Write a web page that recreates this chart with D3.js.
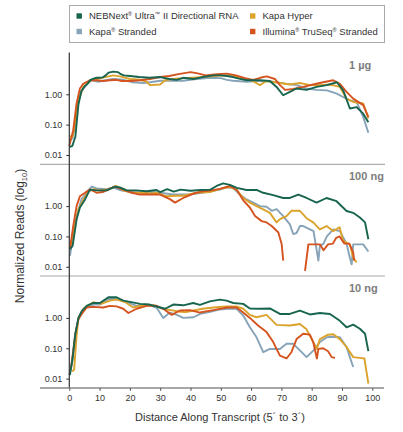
<!DOCTYPE html>
<html>
<head>
<meta charset="utf-8">
<script src="https://cdn.jsdelivr.net/npm/d3@7"></script>
<style>
  body { margin: 0; background: #fff; }
  text { font-family: "Liberation Sans", Arial, Helvetica, sans-serif; }
</style>
</head>
<body>
<script>
const width = 403, height = 432;

// legend order (row by row)
const libraries = ['NEBNext® Ultra™ II Directional RNA', 'Kapa Hyper', 'Kapa® Stranded', 'Illumina® TruSeq® Stranded'];
const colors = ['#17654f', '#dba32c', '#87a3b7', '#d5531f'];
const panels = ['1 µg', '100 ng', '10 ng'];
const xTicks = [0, 10, 20, 30, 40, 50, 60, 70, 80, 90, 100];
const yTicks = [0.01, 0.1, 1];
const xAxisLabel = 'Distance Along Transcript (5´ to 3´)';

// [distance along transcript, normalized reads]
const nebnext1ug = [[0,0.018],[1,0.02],[2,0.04],[3,0.45],[4,1.3],[5,1.8],[6,2.2],[7,3.0],[8,3.3],[9,3.5],[10,3.5],[11,3.6],[12,4.2],[13,5.2],[14.5,5.6],[16,5.4],[17,4.6],[18,4.2],[20,4.0],[23,3.7],[26.5,3.5],[30,3.7],[33,3.2],[35.4,3.0],[37.6,3.5],[41,3.2],[44,3.7],[47.5,4.2],[50,4.2],[52,4.0],[54,3.7],[56,3.3],[58.5,2.9],[62.9,2.9],[66.2,2.75],[68.4,1.75],[70.6,0.93],[72.8,1.2],[75,1.55],[78.3,1.4],[81.6,1.75],[85,2.0],[88.3,2.5],[90.4,1.35],[92.6,0.34],[94.8,0.38],[97,0.23],[98.7,0.12]];
const kapaHyper1ug = [[0,0.042],[1,0.04],[2,0.12],[3,0.6],[4.6,1.7],[6.8,2.8],[9,3.2],[11.8,3.7],[14.5,4.2],[16.7,3.9],[20,3.2],[23.3,3.0],[25.5,2.6],[26.6,2.0],[30,2.1],[31.6,2.9],[34,3.2],[37.6,3.4],[41.9,3.6],[46.4,3.9],[50.8,4.2],[54,3.9],[58.5,3.2],[61,2.6],[62.9,2.0],[65,2.75],[69.5,2.35],[72.8,2.1],[76.1,2.35],[79.4,2.0],[82.7,2.0],[86,2.1],[89.3,1.75],[91.5,0.72],[93.7,0.56],[97,0.5],[98.7,0.16]];
const kapaStranded1ug = [[0,0.03],[1,0.035],[2,0.1],[3,0.6],[4,1.2],[5,1.7],[6,2.3],[7.4,2.9],[9.6,2.6],[11.1,2.8],[14.5,3.2],[17.8,3.0],[21,2.5],[24.4,2.35],[26.6,2.5],[30,2.8],[34,2.8],[37.6,2.8],[41.9,3.2],[46.4,3.5],[50,3.4],[52,3.0],[54,2.8],[58.5,2.6],[62.9,2.8],[67.3,2.6],[71.7,2.2],[75,2.0],[78.3,1.55],[81.6,1.4],[85,1.35],[88.3,1.05],[90.5,0.8],[92.6,0.63],[94.8,0.56],[97,0.18],[98.7,0.054]];
const illumina1ug = [[0,0.02],[1.3,0.066],[2.4,0.5],[3.5,1.55],[4.6,2.2],[6.8,2.9],[9,2.9],[11.2,2.75],[13.4,2.9],[15.6,3.0],[17.3,2.75],[20,2.75],[23.3,2.9],[26.6,3.2],[30,3.7],[33,4.0],[36,4.6],[40,5.4],[42,5.0],[45,4.2],[48.6,4.6],[52,4.8],[55,4.2],[58,3.4],[60.7,3.0],[63,3.5],[65.1,3.9],[67.9,3.2],[69.5,2.0],[71.2,1.4],[73.9,1.5],[77.2,1.75],[80.5,2.1],[83.8,2.5],[87.1,2.9],[89.3,2.2],[91.5,1.2],[93.7,0.72],[97,0.44],[98.7,0.18]];

const nebnext100ng = [[0.2,0.038],[1.1,0.049],[2.4,0.36],[3.5,0.9],[5.2,1.66],[6.8,3.5],[9,3.3],[12.3,3.3],[15.1,4.4],[16.7,4.1],[19,3.3],[22,3.3],[25.5,3.1],[28.8,3.4],[30,2.9],[32.3,3.6],[34.5,3.0],[36.7,3.5],[40,3.2],[43.3,3.4],[46.6,3.5],[48.6,4.6],[50.8,5.6],[53,5.0],[55.3,4.0],[58.5,3.4],[61.8,3.4],[64,2.75],[67.3,2.3],[70.6,1.85],[72.8,1.85],[75.6,2.4],[78.3,1.85],[81.6,1.3],[84.9,1.85],[88.2,1.45],[91.5,0.69],[93.7,0.6],[95.9,0.42],[97.6,0.29],[98.7,0.081]];
const kapaHyper100ng = [[0.2,0.04],[1.8,0.2],[3,0.78],[4.7,1.66],[6.3,3.0],[8,3.6],[10,3.3],[13,3.6],[15.6,4.6],[17.8,3.3],[20.7,2.75],[24,2.75],[27,2.6],[29,2.75],[32.1,2.1],[35.4,2.2],[37.6,2.2],[42,2.75],[46.4,2.9],[49.7,3.7],[53,4.2],[55.3,3.4],[57.4,1.85],[59.6,1.3],[61.8,1.0],[64,0.78],[66.2,0.6],[68.4,0.29],[69.5,0.37],[71.7,0.47],[73.3,0.7],[76.1,0.7],[78.3,0.4],[80.5,0.29],[82.7,0.17],[84.9,0.22],[87.1,0.15],[89.2,0.2],[90.4,0.071],[92.6,0.055],[93.7,0.02],[94.8,0.014]];
const kapaStranded100ng = [[0.2,0.023],[1.3,0.1],[2.4,0.47],[4,1.66],[5.8,2.75],[7.4,4.4],[9,3.8],[12.3,3.6],[14.5,4.1],[17,3.3],[20.7,2.9],[24,2.75],[27,2.9],[30,2.75],[34.3,2.4],[39.8,2.4],[45.3,2.9],[49.7,3.5],[51.9,4.2],[54,4.0],[56.3,2.4],[58.5,1.66],[60.7,1.3],[62.9,1.0],[65.1,0.95],[66.8,0.7],[68.4,0.8],[70.6,0.47],[72.8,0.25],[73.9,0.12],[75,0.13],[76.1,0.22],[77.2,0.22],[80.6,0.15],[81.7,0.033],[82.2,0.016],[82.7,0.049],[83.9,0.058],[85,0.1],[87.1,0.17],[89.3,0.15],[91.5,0.058],[92.6,0.02],[93.2,0.012],[93.7,0.055],[97,0.055],[98.7,0.032]];
const illumina100ng = [[0.2,0.038],[1.3,0.22],[2.4,1.0],[3.5,2.1],[5.2,2.75],[6.8,3.6],[9,2.75],[11,2.9],[12.3,3.3],[15,4.4],[18.5,3.3],[20.7,2.75],[23.3,2.4],[26.6,2.4],[30,2.4],[33.2,1.7],[34.9,1.3],[37.6,1.85],[41,2.6],[44.3,3.1],[47,3.3],[49.7,3.7],[53,4.6],[55.3,3.4],[57.4,1.55],[59.6,0.9],[61.3,0.47],[63.5,0.32],[65.1,0.29],[66.8,0.22],[69,0.135],[70.1,0.055],[70.6,0.016],[71,null],[77.8,0.0074],[78.9,0.055],[81,0.055],[82.7,0.055],[83.9,0.035],[85.4,0.055],[87,0.058],[88.1,0.09],[89.2,0.1],[90.8,0.058],[92.4,0.058],[93.7,0.03],[94,0.016]];

const nebnext10ng = [[0.2,0.013],[1.1,0.046],[1.9,0.26],[3,1.0],[4.1,1.66],[5.7,2.5],[7.9,3.1],[10.1,3.1],[12.9,4.8],[15.6,4.8],[17.8,3.7],[20.5,3.3],[23.3,2.9],[26.5,2.75],[30,2.2],[31.6,2.0],[34.3,2.75],[37.6,2.6],[40.9,3.1],[43.1,2.7],[46.4,3.5],[49.7,4.0],[51.9,3.7],[54.1,3.1],[57.4,2.9],[59.6,2.05],[62.9,2.0],[66.2,2.05],[69.5,1.35],[72.8,1.35],[76.1,1.75],[79.4,1.3],[82.7,1.45],[86,1.35],[89.3,0.8],[91.5,0.49],[93.7,0.6],[95.9,0.44],[97.6,0.3],[98.7,0.08]];
const kapaHyper10ng = [[1,0.017],[1.6,0.02],[2.4,0.25],[3,1.0],[4.7,2.0],[7.9,3.3],[10.5,2.9],[13.4,3.7],[15.6,4.0],[18.5,3.3],[21.1,2.2],[24,2.6],[28,2.6],[31,2.0],[33.5,1.8],[36.5,1.6],[38.5,1.55],[41,1.75],[44,2.0],[47.5,2.2],[52,2.4],[55.2,2.4],[57.4,2.0],[59.6,1.26],[61.8,1.05],[65.1,1.26],[68.4,0.59],[72.8,0.56],[76.1,0.63],[78.3,0.42],[80.5,0.16],[81.7,0.095],[82.7,0.2],[85.4,0.28],[87.1,0.29],[89.3,0.2],[91.5,0.11],[93.7,0.051],[95.9,0.048],[97.4,0.046],[98.7,0.0068]];
const kapaStranded10ng = [[0,0.013],[1,0.04],[2,0.3],[3,0.9],[4,1.5],[5.7,2.2],[7.9,2.75],[10.1,2.75],[12.9,4.2],[15.6,4.2],[19,3.3],[22.2,2.5],[25.5,2.75],[28.8,2.2],[31,1.0],[33.2,1.5],[35.5,1.26],[37.6,1.0],[41,1.05],[43.2,1.35],[46.5,1.6],[49.7,1.9],[52,2.0],[55.2,2.0],[57.4,1.2],[59.6,0.49],[61.8,0.23],[64,0.074],[66.2,0.095],[69.5,0.095],[71.7,0.14],[73.9,0.14],[76.1,0.085],[78.3,0.051],[80.6,0.085],[82.7,0.16],[85,0.23],[87.1,0.24],[89.3,0.23],[91.5,0.11],[92.6,0.051],[93.7,0.024]];
const illumina10ng = [[0.5,0.02],[1,0.05],[2,0.3],[3,0.9],[4,1.3],[5.7,2.2],[7.9,2.3],[11.2,2.2],[13.4,2.5],[15.6,2.4],[17.8,2.0],[19.5,1.45],[22.2,2.0],[25.5,2.5],[28.8,2.5],[31,2.0],[33.8,1.26],[36.5,1.75],[39.8,1.8],[43.1,1.5],[47.5,1.8],[52,2.2],[55.2,2.2],[57.4,1.5],[59.6,1.0],[62.3,0.56],[65.1,0.34],[67.3,0.16],[69.5,0.057],[71.7,0.046],[73.3,0.074],[75,0.2],[77.2,0.3],[79.4,0.28],[80.5,0.16],[81.7,0.046],[82.2,0.095],[83.8,0.1],[85.4,0.08],[86.6,0.051],[87.7,0.048]];

// drawing order per panel: [library index, series]
const panelSeries = [
    [[2, kapaStranded1ug], [1, kapaHyper1ug], [3, illumina1ug], [0, nebnext1ug]],
    [[2, kapaStranded100ng], [1, kapaHyper100ng], [3, illumina100ng], [0, nebnext100ng]],
    [[2, kapaStranded10ng], [1, kapaHyper10ng], [3, illumina10ng], [0, nebnext10ng]]
];

const panelTop = 52.5, panelHeight = 111.8;
const axisX = 69.3;

const svg = d3.select('body')
    .append('svg')
    .attr('width', width)
    .attr('height', height);

const xScale = d3.scaleLinear().domain([0, 100]).range([axisX, 372.3]);

// separators between panels
svg.append('line')
    .attr('x1', 40).attr('x2', 385)
    .attr('y1', panelTop + panelHeight).attr('y2', panelTop + panelHeight)
    .style('stroke', '#9a9a9a').style('stroke-width', 1);
svg.append('line')
    .attr('x1', 40).attr('x2', 385)
    .attr('y1', panelTop + panelHeight * 2).attr('y2', panelTop + panelHeight * 2)
    .style('stroke', '#d4d4d4').style('stroke-width', 2);

panels.forEach((label, i) => {
    const bottom = panelTop + panelHeight * (i + 1);
    const yScale = d3.scaleLog().domain([0.01, 1]).range([bottom - 9.3, bottom - 70]);

    const g = svg.append('g');

    g.append('g')
        .attr('transform', `translate(${axisX},0)`)
        .call(d3.axisLeft(yScale).tickValues(yTicks).tickFormat(d3.format('.2f')).tickSize(3).tickPadding(4))
        .call(ax => ax.select('.domain').remove())
        .call(ax => ax.selectAll('line').style('stroke', '#333'))
        .call(ax => ax.selectAll('text')
            .style('font-family', '"Liberation Sans", Arial, sans-serif')
            .style('font-size', '9px').style('fill', '#333'));

    const line = d3.line()
        .defined(d => d[1] != null)
        .x(d => xScale(d[0]))
        .y(d => yScale(d[1]));

    g.selectAll('.series')
        .data(panelSeries[i])
        .enter()
        .append('path')
        .attr('class', 'series')
        .attr('d', d => line(d[1]))
        .style('fill', 'none')
        .style('stroke', d => colors[d[0]])
        .style('stroke-width', 1.9)
        .style('stroke-linejoin', 'round');

    g.append('text')
        .attr('x', 349)
        .attr('y', bottom - panelHeight + 16)
        .style('font-size', '11px')
        .style('font-weight', 'bold')
        .style('fill', '#7d7d7d')
        .text(label);
});

// left axis line
svg.append('line')
    .attr('x1', axisX).attr('x2', axisX)
    .attr('y1', panelTop).attr('y2', panelTop + panelHeight * 3)
    .style('stroke', '#333').style('stroke-width', 1.2);

// bottom axis
const bottomY = panelTop + panelHeight * 3;
svg.append('line')
    .attr('x1', 40).attr('x2', 384)
    .attr('y1', bottomY).attr('y2', bottomY)
    .style('stroke', '#8a8a8a').style('stroke-width', 1.5);
svg.append('g')
    .attr('transform', `translate(0,${bottomY})`)
    .call(d3.axisBottom(xScale).tickValues(xTicks).tickSize(3).tickPadding(4))
    .call(ax => ax.select('.domain').remove())
    .call(ax => ax.selectAll('line').style('stroke', '#555'))
    .call(ax => ax.selectAll('text')
        .style('font-family', '"Liberation Sans", Arial, sans-serif')
        .style('font-size', '9px').style('fill', '#333'));

// axis titles
svg.append('text')
    .attr('x', 220)
    .attr('y', 421)
    .attr('text-anchor', 'middle')
    .style('font-size', '11px')
    .style('fill', '#333')
    .text(xAxisLabel);

const yTitle = svg.append('text')
    .attr('transform', 'translate(24,236) rotate(-90)')
    .attr('text-anchor', 'middle')
    .style('font-size', '12px')
    .style('fill', '#333');
yTitle.append('tspan').text('Normalized Reads (log');
yTitle.append('tspan').attr('dy', 3).style('font-size', '7.5px').text('10');
yTitle.append('tspan').attr('dy', -3).text(')');

// legend
svg.append('rect')
    .attr('x', 69.5).attr('y', 5.5)
    .attr('width', 315).attr('height', 37)
    .style('fill', '#fff')
    .style('stroke', '#aaa')
    .style('stroke-width', 1);

const legendPos = [[76.5, 16], [250, 16], [76.5, 31.5], [250, 31.5]];
libraries.forEach((name, i) => {
    const [lx, ly] = legendPos[i];
    svg.append('rect')
        .attr('x', lx).attr('y', ly - 2.7)
        .attr('width', 5.4).attr('height', 5.4)
        .style('fill', colors[i]);
    const t = svg.append('text')
        .attr('x', lx + 12.5)
        .attr('y', ly + 3.4)
        .style('font-size', '9.5px')
        .style('fill', '#333');
    let shifted = false;
    name.split(/([®™])/).filter(s => s.length).forEach(part => {
        if (part === '®' || part === '™') {
            t.append('tspan').attr('dy', shifted ? 0 : -3).style('font-size', '5.5px').text(part);
            shifted = true;
        } else {
            t.append('tspan').attr('dy', shifted ? 3 : 0).text(part);
            shifted = false;
        }
    });
});
</script>
</body>
</html>
